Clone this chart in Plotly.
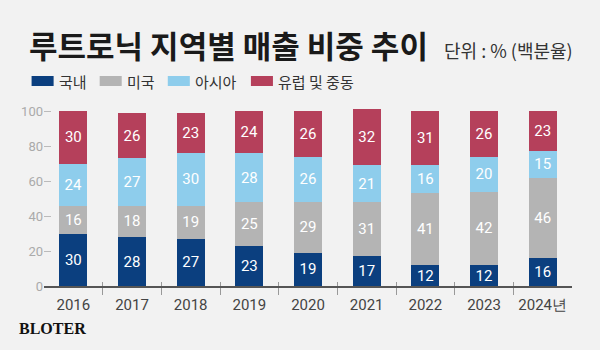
import plotly.graph_objects as go

years = ["2016", "2017", "2018", "2019", "2020", "2021", "2022", "2023", "2024년"]
domestic = [30, 28, 27, 23, 19, 17, 12, 12, 16]
usa = [16, 18, 19, 25, 29, 31, 41, 42, 46]
asia = [24, 27, 30, 28, 26, 21, 16, 20, 15]
europe_me = [30, 26, 23, 24, 26, 32, 31, 26, 23]

series_names = ["국내", "미국", "아시아", "유럽 및 중동"]
series_values = [domestic, usa, asia, europe_me]
colors = ["#0b3f7f", "#b4b4b4", "#8ecdec", "#b5405b"]

W, H = 600, 350
ML, MR, MT, MB = 44.4, 28.4, 107, 64
PW = W - ML - MR
PH = H - MT - MB

def px_x(x):
    return (x - ML) / PW

def px_y(y):
    return (H - MB - y) / PH

xs = list(range(len(years)))
boundaries = [i + 0.5 for i in range(len(years) - 1)]

fig = go.Figure()
for name, vals, col in zip(series_names, series_values, colors):
    fig.add_trace(go.Bar(
        x=xs, y=vals, name=name, marker=dict(color=col, line=dict(width=0)),
        text=vals, texttemplate="%{y}", textposition="inside",
        insidetextanchor="middle", textangle=0,
        textfont=dict(color="white", size=15, family="Roboto"),
        showlegend=False,
    ))

# helper trace on overlay axis for inner divider ticks
fig.add_trace(go.Scatter(x=[0], y=[0], xaxis="x2", mode="markers",
                         marker=dict(opacity=0), showlegend=False, hoverinfo="skip"))

fig.update_layout(
    width=W, height=H,
    margin=dict(l=ML, r=MR, t=MT, b=MB, pad=0),
    paper_bgcolor="#f2f2f2", plot_bgcolor="#f2f2f2",
    barmode="stack", bargap=0.52,
    uniformtext=dict(minsize=15, mode="show"),
    xaxis=dict(
        range=[-0.5, len(years) - 0.5], tickmode="array", tickvals=xs, ticktext=years,
        ticks="", showgrid=False, zeroline=False,
        showline=True, linecolor="#555555", linewidth=1.5,
        tickfont=dict(family="Roboto", size=15, color="#444444"),
        ticklabelstandoff=4,
        minor=dict(tickmode="array", tickvals=boundaries, ticks="outside",
                   ticklen=7, tickcolor="#999999", tickwidth=1, showgrid=False),
    ),
    xaxis2=dict(
        overlaying="x", anchor="y", side="bottom",
        range=[-0.5, len(years) - 0.5], tickmode="array", tickvals=boundaries,
        ticks="inside", ticklen=4, tickcolor="#999999", tickwidth=1,
        showticklabels=False, showgrid=False, zeroline=False, showline=False,
    ),
    yaxis=dict(
        range=[0, PH / 1.75], tickmode="array", tickvals=[0, 20, 40, 60, 80, 100],
        ticks="inside", ticklen=7, tickcolor="#bbbbbb", tickwidth=1,
        showgrid=False, zeroline=False, showline=False,
        tickfont=dict(family="Roboto", size=13, color="#aaaaaa"),
    ),
    font=dict(family="Noto Sans CJK KR"),
)

annotations = [
    dict(text="<b>루트로닉 지역별 매출 비중 추이</b>", x=px_x(27), y=px_y(44),
         xanchor="left", yanchor="middle",
         font=dict(family="Noto Sans CJK KR", size=31, color="#1a1a1a")),
    dict(text="단위 : % (백분율)", x=px_x(442), y=px_y(50),
         xanchor="left", yanchor="middle",
         font=dict(family="Noto Sans CJK KR", size=18, color="#333333")),
    dict(text="<b>BLOTER</b>", x=px_x(17), y=px_y(328),
         xanchor="left", yanchor="middle",
         font=dict(family="Liberation Serif", size=16, color="#111111")),
]
shapes = []
legend_sq_x = [32, 100, 168, 251]
for name, col, sx in zip(series_names, colors, legend_sq_x):
    shapes.append(dict(type="rect", xref="paper", yref="paper",
                       x0=px_x(sx), x1=px_x(sx + 22), y0=px_y(86), y1=px_y(76),
                       fillcolor=col, line=dict(width=0)))
    annotations.append(dict(text=name, x=px_x(sx + 25), y=px_y(81),
                            xanchor="left", yanchor="middle",
                            font=dict(family="Noto Sans CJK KR", size=15, color="#333333")))

for a in annotations:
    a.update(xref="paper", yref="paper", showarrow=False)
fig.update_layout(annotations=annotations, shapes=shapes)

fig.write_html("out.html")
